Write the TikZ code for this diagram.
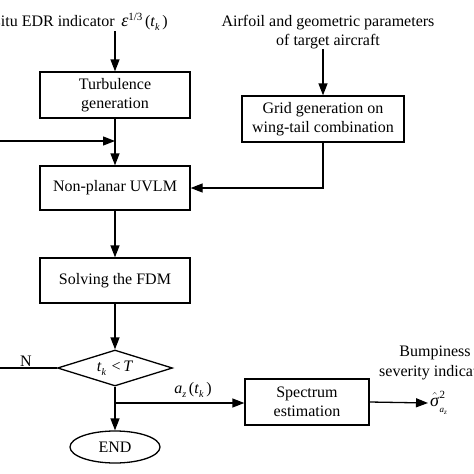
\documentclass[tikz,border=0pt]{standalone}
\usepackage{fontspec}
\setmainfont{Liberation Serif}
\usetikzlibrary{arrows.meta,shapes.geometric}
\newcommand{\supsz}[1]{{\fontsize{11}{11}\selectfont #1}}
\newcommand{\lowsub}[1]{\raisebox{-4pt}{\fontsize{10}{10}\selectfont\textit{#1}}}
\begin{document}
\begin{tikzpicture}[x=1pt,y=-1pt,
  font=\fontsize{16}{19.5}\selectfont,
  every node/.style={inner sep=1pt},
  proc/.style={draw,line width=1.3pt,minimum width=150pt,minimum height=46pt,align=center,inner sep=0pt},
  dec/.style={draw,line width=1.3pt,diamond,minimum width=115pt,minimum height=36pt,inner sep=0pt,aspect=3.2},
  term/.style={draw,line width=1.3pt,ellipse,minimum width=90pt,minimum height=32pt,inner sep=0pt},
  lbl/.style={align=center,inner sep=0pt},
  conn/.style={line width=1.3pt},
  arr/.style={conn,-{Triangle[length=12pt,width=9pt]}}]
\useasboundingbox (0,0) rectangle (474,474);
\clip (0,0) rectangle (474,474);
\node[lbl,anchor=east] (edr) at (168,22) {In-situ EDR indicator\, {\fontsize{18}{18}\selectfont\textit{ε}}\raisebox{6.5pt}{\supsz{1/3}}\,(\textit{t}\lowsub{k}\,)};
\node[lbl] (air) at (328,32) {Airfoil and geometric parameters\\of target aircraft};
\node[proc] (turb) at (115,95) {Turbulence\\generation};
\node[proc,minimum width=162pt] (grid) at (323,119) {Grid generation on\\wing-tail combination};
\node[proc,minimum height=44pt] (uvlm) at (115,188) {Non-planar UVLM};
\node[proc,minimum height=45pt] (fdm) at (115,280.5) {Solving the FDM};
\node[dec] (dec) at (115,368) {\textit{t}\lowsub{k}\,\,<\,\textit{T}};
\node[term] (end) at (115,447) {END};
\node[proc,minimum width=124pt] (spec) at (307,402) {Spectrum\\estimation};
\node[lbl,anchor=west,inner xsep=2pt] (sig) at (428,403) {{\fontsize{18}{18}\selectfont$\hat{\mbox{\textit{σ}}}$}\rlap{\raisebox{8pt}{\supsz{2}}}\raisebox{-6pt}{\fontsize{9}{9}\selectfont\textit{a}\raisebox{-2pt}{\fontsize{7}{7}\selectfont\textit{z}}}};
\node[lbl] (bump) at (435,363) {Bumpiness\\severity indicator};
\node[lbl] (N) at (26,361) {N};
\node[lbl] (az) at (193,390) {\textit{a}\lowsub{z}\,(\textit{t}\lowsub{k}\,)};
\coordinate (loopx) at (-10,368);
\coordinate (fb) at (115,141);
\coordinate (br) at (115,403);
\draw[arr] (edr.south -| turb.north) -- (turb.north);
\draw[arr] (air.south -| grid.north) -- (grid.north);
\draw[arr] (turb.south) -- (uvlm.north);
\draw[arr] (grid.south) |- (uvlm.east);
\draw[arr] (uvlm.south) -- (fdm.north);
\draw[arr] (fdm.south) -- (dec.north);
\draw[arr] (dec.south) -- (end.north);
\draw[arr] (br) -- (br -| spec.west);
\draw[arr] (spec.east) -- (sig.west);
\draw[arr] (dec.west) -- (loopx) |- (fb);
\end{tikzpicture}
\end{document}
